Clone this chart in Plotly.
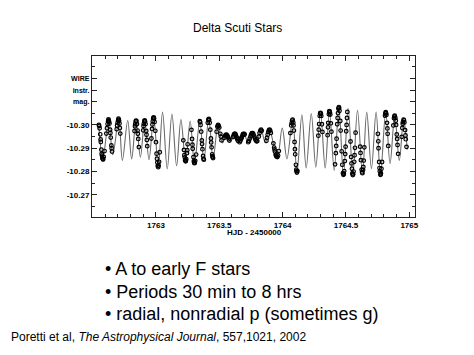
import plotly.graph_objects as go

# Model light curve: times and magnitudes of successive extrema
curve_t = [1762.549, 1762.580, 1762.627, 1762.659, 1762.706, 1762.735, 1762.777, 1762.808,
           1762.843, 1762.877, 1762.911, 1762.945, 1762.982, 1763.018, 1763.052, 1763.089,
           1763.126, 1763.163, 1763.197, 1763.234, 1763.270, 1763.304, 1763.346, 1763.378,
           1763.417, 1763.451, 1763.491, 1763.525, 1763.556, 1763.588, 1763.622, 1763.656,
           1763.693, 1763.727, 1763.761, 1763.798, 1763.829, 1763.864, 1763.895, 1763.958,
           1763.997, 1764.034, 1764.079, 1764.113, 1764.152, 1764.186, 1764.226, 1764.262,
           1764.299, 1764.336, 1764.370, 1764.407, 1764.444, 1764.480, 1764.517, 1764.554,
           1764.591, 1764.630, 1764.664, 1764.701, 1764.738, 1764.772, 1764.814, 1764.848,
           1764.885, 1764.921, 1764.955, 1764.984]
curve_mag = [-10.3000, -10.2854, -10.3020, -10.2872, -10.3023, -10.2848, -10.3019, -10.2854,
             -10.3019, -10.2862, -10.3020, -10.2851, -10.3033, -10.2819, -10.3055, -10.2811,
             -10.3047, -10.2825, -10.3023, -10.2844, -10.3016, -10.2836, -10.3016, -10.2851,
             -10.3026, -10.2858, -10.3000, -10.2923, -10.2958, -10.2930, -10.2963, -10.2925,
             -10.2963, -10.2925, -10.2966, -10.2930, -10.2980, -10.2923, -10.2980, -10.2862,
             -10.2987, -10.2854, -10.3023, -10.2796, -10.3044, -10.2815, -10.3049, -10.2819,
             -10.3052, -10.2815, -10.3059, -10.2805, -10.3077, -10.2786, -10.3072, -10.2785,
             -10.3063, -10.2793, -10.3055, -10.2813, -10.3055, -10.2786, -10.3055, -10.2834,
             -10.3040, -10.2848, -10.3023, -10.2894]

obs_t = [
    1762.549, 1762.555, 1762.560, 1762.5645, 1762.569, 1762.574, 1762.577, 1762.580, 1762.587, 1762.594,
    1762.552, 1762.563, 1762.571, 1762.583,
    1762.608, 1762.613, 1762.618, 1762.622, 1762.627, 1762.633, 1762.638, 1762.643, 1762.648, 1762.653,
    1762.625, 1762.630, 1762.640, 1762.650,
    1762.690, 1762.697, 1762.701, 1762.706, 1762.712, 1762.715, 1762.718, 1762.693, 1762.704, 1762.709,
    1762.831, 1762.836, 1762.840, 1762.843, 1762.850, 1762.855, 1762.860, 1762.865, 1762.834, 1762.846, 1762.857,
    1762.899, 1762.904, 1762.908, 1762.911, 1762.918, 1762.923, 1762.928, 1762.931, 1762.902, 1762.914, 1762.925,
    1762.964, 1762.969, 1762.975, 1762.978, 1762.982, 1762.989, 1762.995, 1763.000, 1763.005, 1763.011,
    1763.014, 1763.018, 1763.025, 1763.030, 1762.972, 1762.985, 1763.008, 1763.021,
    1763.216, 1763.221, 1763.227, 1763.230, 1763.234, 1763.239, 1763.245, 1763.250, 1763.224, 1763.236, 1763.247,
    1763.280, 1763.285, 1763.290, 1763.296, 1763.301, 1763.304, 1763.310, 1763.317, 1763.288, 1763.299, 1763.306,
    1763.346, 1763.352, 1763.357, 1763.362, 1763.367, 1763.372, 1763.375, 1763.378, 1763.349, 1763.364,
    1763.409, 1763.413, 1763.417, 1763.424, 1763.429, 1763.434, 1763.439, 1763.444, 1763.448, 1763.451,
    1763.420, 1763.436, 1763.446,
    1763.479, 1763.485, 1763.491, 1763.500, 1763.508, 1763.517, 1763.488, 1763.495, 1763.512,
    1763.540, 1763.546, 1763.552, 1763.557, 1763.563, 1763.569, 1763.575, 1763.580, 1763.549, 1763.566,
    1763.608, 1763.613, 1763.618, 1763.623, 1763.629, 1763.635, 1763.641, 1763.647, 1763.626, 1763.638,
    1763.660, 1763.666, 1763.672, 1763.678, 1763.684, 1763.690, 1763.696, 1763.700, 1763.675, 1763.687,
    1763.728, 1763.734, 1763.740, 1763.746, 1763.752, 1763.758, 1763.764, 1763.770, 1763.776, 1763.782,
    1763.788, 1763.794, 1763.800,
    1763.812, 1763.818, 1763.824, 1763.830, 1763.835,
    1763.872, 1763.877, 1763.882, 1763.887, 1763.892, 1763.897, 1763.902, 1763.907,
    1763.927, 1763.933, 1763.939, 1763.945, 1763.952, 1763.958, 1763.964, 1763.970, 1763.936, 1763.948,
    1764.061, 1764.068, 1764.075, 1764.079, 1764.084, 1764.089, 1764.094, 1764.099, 1764.105, 1764.110,
    1764.113, 1764.117, 1764.071, 1764.086, 1764.097, 1764.108,
    1764.282, 1764.288, 1764.293, 1764.299, 1764.305, 1764.310, 1764.314, 1764.285, 1764.296, 1764.302,
    1764.355, 1764.360, 1764.365, 1764.370, 1764.376, 1764.381, 1764.385, 1764.358, 1764.368, 1764.373,
    1764.414, 1764.420, 1764.426, 1764.431, 1764.437, 1764.440, 1764.444, 1764.449, 1764.455, 1764.458,
    1764.423, 1764.434, 1764.446,
    1764.466, 1764.471, 1764.476, 1764.480, 1764.486, 1764.491, 1764.497, 1764.502, 1764.508, 1764.511,
    1764.483, 1764.494, 1764.505,
    1764.536, 1764.541, 1764.547, 1764.550, 1764.554, 1764.560, 1764.565, 1764.571, 1764.576,
    1764.544, 1764.557, 1764.568,
    1764.612, 1764.618, 1764.624, 1764.630, 1764.635, 1764.640, 1764.645, 1764.615, 1764.627, 1764.637,
    1764.752, 1764.757, 1764.762, 1764.767, 1764.772, 1764.776, 1764.780, 1764.785, 1764.755, 1764.765, 1764.774,
    1764.808, 1764.814, 1764.819, 1764.824, 1764.829, 1764.834, 1764.811, 1764.817, 1764.827,
    1764.874, 1764.879, 1764.885, 1764.890, 1764.896, 1764.901, 1764.907, 1764.912, 1764.882, 1764.893, 1764.904,
    1764.940, 1764.945, 1764.950, 1764.955, 1764.961, 1764.967, 1764.972, 1764.978, 1764.948, 1764.958, 1764.970,
]
obs_mag = [
    -10.3000, -10.2986, -10.2960, -10.2927, -10.2894, -10.2868, -10.2858, -10.2854, -10.2863, -10.2888,
    -10.2996, -10.2938, -10.2876, -10.2852,
    -10.2963, -10.2986, -10.3004, -10.3016, -10.3020, -10.3006, -10.2980, -10.2946, -10.2912, -10.2886,
    -10.3024, -10.3014, -10.2966, -10.2900,
    -10.2982, -10.3009, -10.3019, -10.3023, -10.3006, -10.2987, -10.2963, -10.2998, -10.3027, -10.3018,
    -10.2974, -10.3003, -10.3015, -10.3019, -10.3004, -10.2976, -10.2940, -10.2905, -10.2994, -10.3016, -10.2962,
    -10.2977, -10.3005, -10.3016, -10.3020, -10.3004, -10.2974, -10.2936, -10.2909, -10.2996, -10.3015, -10.2958,
    -10.2942, -10.2983, -10.3016, -10.3029, -10.3033, -10.3013, -10.2975, -10.2926, -10.2877, -10.2839,
    -10.2824, -10.2819, -10.2842, -10.2883, -10.3002, -10.3028, -10.2855, -10.2826,
    -10.2934, -10.2893, -10.2861, -10.2849, -10.2844, -10.2853, -10.2879, -10.2917, -10.2870, -10.2846, -10.2892,
    -10.2979, -10.2940, -10.2898, -10.2862, -10.2840, -10.2836, -10.2846, -10.2873, -10.2915, -10.2845, -10.2838,
    -10.3016, -10.3000, -10.2971, -10.2934, -10.2896, -10.2867, -10.2855, -10.2851, -10.3012, -10.2918,
    -10.3009, -10.3022, -10.3026, -10.3010, -10.2980, -10.2942, -10.2904, -10.2874, -10.2862, -10.2858,
    -10.3022, -10.2925, -10.2866,
    -10.2971, -10.2992, -10.3000, -10.2989, -10.2962, -10.2934, -10.2997, -10.2996, -10.2950,
    -10.2945, -10.2952, -10.2957, -10.2958, -10.2954, -10.2947, -10.2939, -10.2933, -10.2955, -10.2950,
    -10.2948, -10.2955, -10.2961, -10.2963, -10.2958, -10.2950, -10.2940, -10.2932, -10.2960, -10.2945,
    -10.2926, -10.2931, -10.2940, -10.2948, -10.2956, -10.2962, -10.2962, -10.2959, -10.2944, -10.2960,
    -10.2926, -10.2931, -10.2941, -10.2951, -10.2960, -10.2965, -10.2965, -10.2959, -10.2950, -10.2941,
    -10.2934, -10.2930, -10.2931,
    -10.2950, -10.2965, -10.2976, -10.2980, -10.2975,
    -10.2932, -10.2945, -10.2958, -10.2970, -10.2978, -10.2980, -10.2976, -10.2966,
    -10.2921, -10.2903, -10.2886, -10.2873, -10.2865, -10.2862, -10.2869, -10.2888, -10.2895, -10.2868,
    -10.2965, -10.2998, -10.3019, -10.3023, -10.3011, -10.2976, -10.2927, -10.2874, -10.2829, -10.2801,
    -10.2796, -10.2802, -10.3008, -10.2998, -10.2896, -10.2808,
    -10.2954, -10.3004, -10.3039, -10.3052, -10.3039, -10.3003, -10.2970, -10.2980, -10.3050, -10.3048,
    -10.2956, -10.3009, -10.3046, -10.3059, -10.3045, -10.3007, -10.2971, -10.2990, -10.3057, -10.3054,
    -10.2831, -10.2879, -10.2941, -10.3003, -10.3051, -10.3070, -10.3077, -10.3061, -10.3017, -10.2976,
    -10.2910, -10.3030, -10.3073,
    -10.2887, -10.2829, -10.2793, -10.2786, -10.2802, -10.2845, -10.2907, -10.2973, -10.3030, -10.3056,
    -10.2790, -10.2875, -10.3000,
    -10.2929, -10.2863, -10.2812, -10.2792, -10.2785, -10.2800, -10.2842, -10.2902, -10.2967,
    -10.2835, -10.2789, -10.2870,
    -10.2907, -10.2849, -10.2808, -10.2793, -10.2807, -10.2847, -10.2904, -10.2880, -10.2797, -10.2820,
    -10.2962, -10.2900, -10.2841, -10.2801, -10.2786, -10.2793, -10.2812, -10.2841, -10.2930, -10.2815, -10.2789,
    -10.3040, -10.3055, -10.3043, -10.3009, -10.2962, -10.2910, -10.3050, -10.3050, -10.2985,
    -10.2998, -10.3029, -10.3040, -10.3030, -10.3000, -10.2959, -10.2914, -10.2876, -10.3037, -10.3018, -10.2940,
    -10.2949, -10.2987, -10.3013, -10.3023, -10.3011, -10.2978, -10.2939, -10.2906, -10.3005, -10.3020, -10.2955,
]

x_tickvals = [1763, 1763.5, 1764, 1764.5, 1765]
x_ticktext = ["1763", "1763.5", "1764", "1764.5", "1765"]
y_tickvals = [-10.32, -10.315, -10.31, -10.30, -10.29, -10.28, -10.27]
y_ticktext = ["<span style='font-size:7px'>WIRE</span>",
              "<span style='font-size:7px'>instr.</span>",
              "<span style='font-size:7px'>mag.</span>",
              "-10.30", "-10.29", "-10.28", "-10.27"]

title_text = "Delta Scuti Stars"
x_title = "HJD - 2450000"
bullets = ["• A to early F stars", "• Periods 30 min to 8 hrs", "• radial, nonradial p (sometimes g)"]
citation = "Poretti et al, <i>The Astrophysical Journal</i>, 557,1021, 2002"

W, H = 474, 355
L, R, T, B = 92, 415, 56, 217  # plot frame in pixels


def px(x):
    return (x - L) / (R - L)


def py(y):
    return (B - y) / (B - T)


fig = go.Figure()
fig.add_trace(go.Scatter(x=curve_t, y=curve_mag, mode="lines",
                         line=dict(color="#6a6a6a", width=1.1, shape="spline", smoothing=1.0),
                         hoverinfo="skip"))
fig.add_trace(go.Scatter(x=obs_t, y=obs_mag, mode="markers",
                         marker=dict(symbol="circle-open", size=3.6, color="#000000",
                                     line=dict(width=1.2, color="#000000")),
                         hoverinfo="skip"))

tickfont = dict(family="Liberation Sans", size=8, color="#000000", weight="bold")
axis_common = dict(showline=True, linecolor="#222222", linewidth=1, mirror="ticks",
                   ticks="inside", ticklen=5, tickwidth=1, tickcolor="#222222",
                   showgrid=False, zeroline=False, tickfont=tickfont)

fig.update_xaxes(range=[1762.495, 1765.045], tickmode="array", tickvals=x_tickvals,
                 ticktext=x_ticktext,
                 minor=dict(dtick=0.1, tick0=1762.5, ticks="inside", ticklen=3,
                            tickcolor="#222222", showgrid=False),
                 **axis_common)
fig.update_yaxes(range=[-10.2605, -10.3296], tickmode="array", tickvals=y_tickvals,
                 ticktext=y_ticktext,
                 minor=dict(dtick=0.005, tick0=-10.30, ticks="inside", ticklen=3,
                            tickcolor="#222222", showgrid=False),
                 **axis_common)

annotations = [
    dict(text=title_text, x=px(237), y=py(28), xref="paper", yref="paper",
         xanchor="center", yanchor="middle", showarrow=False,
         font=dict(family="Liberation Sans", size=12, color="#000000")),
    dict(text=x_title, x=px(254), y=py(232), xref="paper", yref="paper",
         xanchor="center", yanchor="middle", showarrow=False,
         font=dict(family="Liberation Sans", size=8, color="#000000", weight="bold")),
    dict(text=citation, x=px(9), y=py(337), xref="paper", yref="paper",
         xanchor="left", yanchor="middle", showarrow=False,
         font=dict(family="Liberation Sans", size=12, color="#000000")),
]
for b, yy in zip(bullets, [269, 292, 314]):
    annotations.append(dict(text=b, x=px(103), y=py(yy), xref="paper", yref="paper",
                            xanchor="left", yanchor="middle", showarrow=False,
                            font=dict(family="Liberation Sans", size=18, color="#000000")))

fig.update_layout(width=W, height=H, margin=dict(l=L, r=W - R, t=T, b=H - B),
                  paper_bgcolor="white", plot_bgcolor="white", showlegend=False,
                  annotations=annotations)

fig.write_html("out.html")
